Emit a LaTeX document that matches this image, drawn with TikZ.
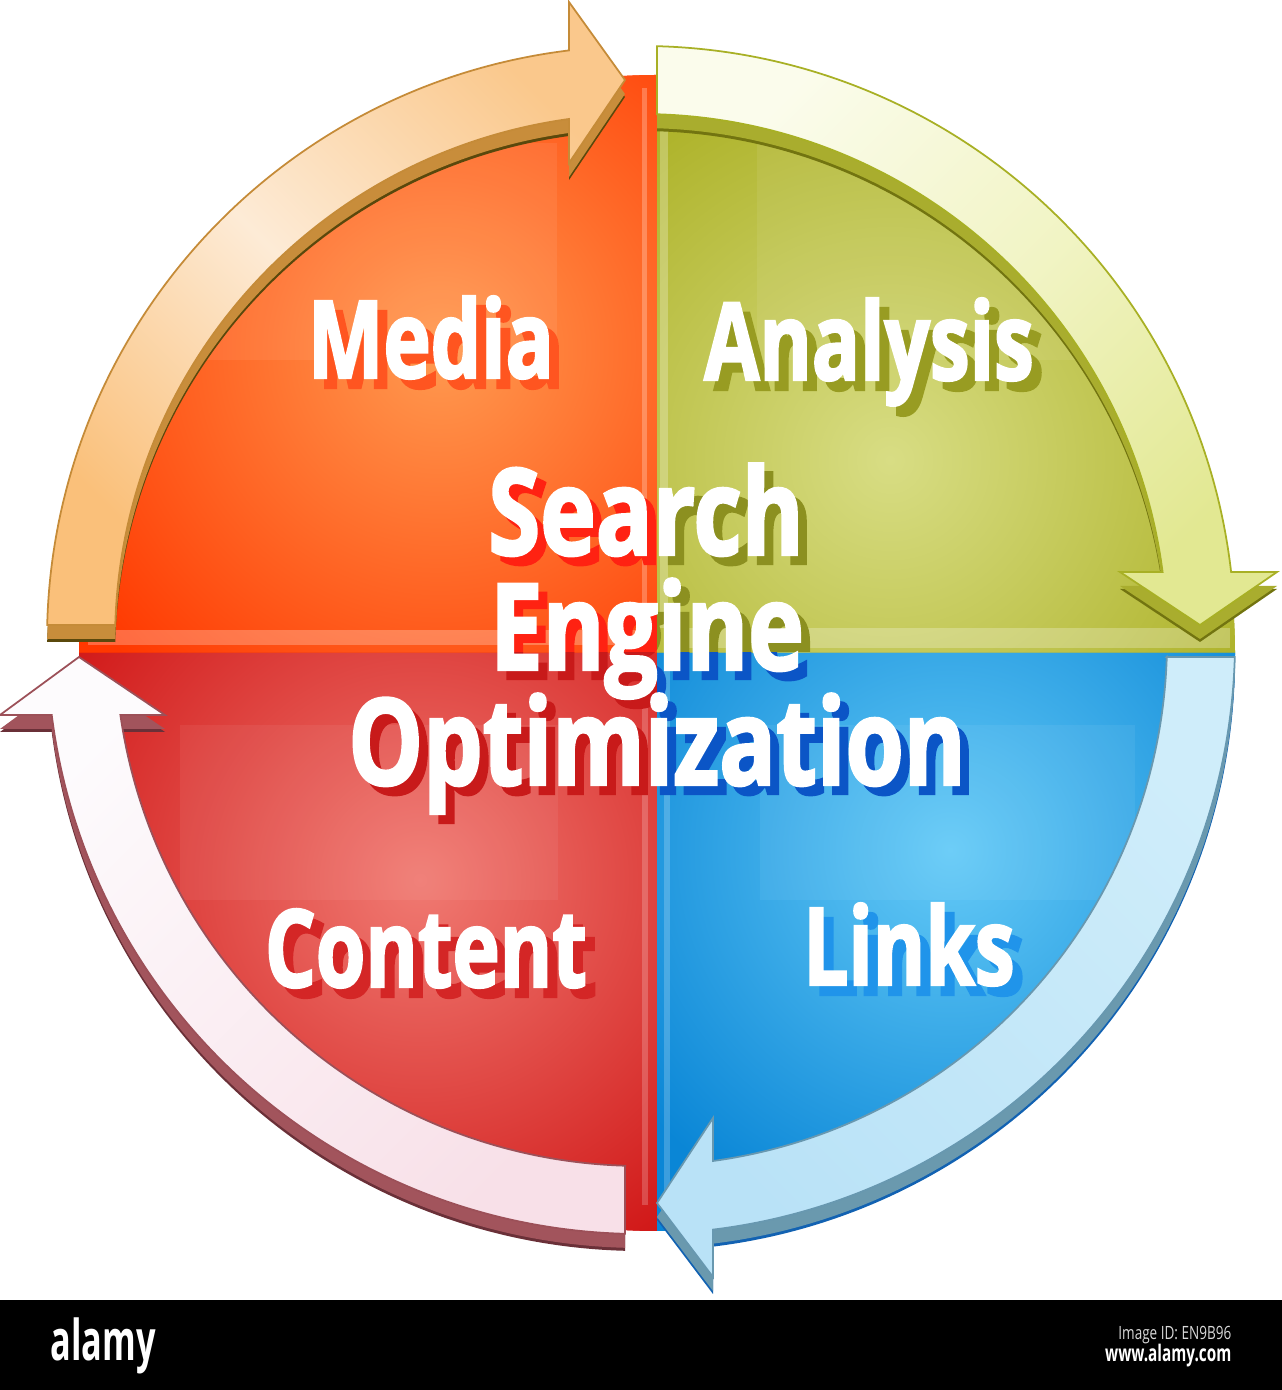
\documentclass[tikz,border=0pt]{standalone}
\usepackage{fontspec}
\usepackage{graphicx}
\setmainfont{Open Sans}
\newfontfamily\titlefont[FakeStretch=0.78, FakeBold=2]{Open Sans}
\newfontfamily\labelfont[FakeStretch=0.74, FakeBold=2]{Open Sans}
\usetikzlibrary{positioning}

% quadrant colours
\definecolor{mediaBase}{HTML}{FF3800}
\definecolor{mediaLight}{HTML}{FF9A50}
\definecolor{mediaTxtSh}{HTML}{FF5520}
\definecolor{mediaTitleSh}{HTML}{FF2212}
\definecolor{analysisBase}{HTML}{AEB32A}
\definecolor{analysisLight}{HTML}{D8DD84}
\definecolor{analysisTxtSh}{HTML}{989C22}
\definecolor{analysisTitleSh}{HTML}{8C9020}
\definecolor{contentBase}{HTML}{D01616}
\definecolor{contentLight}{HTML}{F07A72}
\definecolor{contentTxtSh}{HTML}{D42626}
\definecolor{contentTitleSh}{HTML}{C81A1A}
\definecolor{linksBase}{HTML}{0A86D6}
\definecolor{linksLight}{HTML}{64CAF7}
\definecolor{linksTxtSh}{HTML}{2094EA}
\definecolor{linksTitleSh}{HTML}{0B55C6}
% arrow colours
\definecolor{mediaArrowA}{HTML}{FAC07A}
\definecolor{mediaArrowB}{HTML}{FDEBD6}
\definecolor{mediaArrowC}{HTML}{FAC88C}
\definecolor{mediaArrowLine}{HTML}{C58B38}
\definecolor{mediaArrowSide}{HTML}{C88D3B}
\definecolor{mediaArrowEdge}{HTML}{5A480C}
\definecolor{analysisArrowA}{HTML}{FBFCEC}
\definecolor{analysisArrowB}{HTML}{F1F4C4}
\definecolor{analysisArrowC}{HTML}{E2E892}
\definecolor{analysisArrowLine}{HTML}{A8B025}
\definecolor{analysisArrowSide}{HTML}{A9AD2E}
\definecolor{analysisArrowEdge}{HTML}{727410}
\definecolor{linksArrowA}{HTML}{CFEDFA}
\definecolor{linksArrowC}{HTML}{B9E2F7}
\definecolor{linksArrowLine}{HTML}{6898B0}
\definecolor{linksArrowSide}{HTML}{6A99AE}
\definecolor{linksArrowEdge}{HTML}{1262B2}
\definecolor{contentArrowA}{HTML}{FDFBFD}
\definecolor{contentArrowC}{HTML}{F8E0E8}
\definecolor{contentArrowLine}{HTML}{9C5058}
\definecolor{contentArrowSide}{HTML}{A2545C}
\definecolor{contentArrowEdge}{HTML}{6A3038}

\tikzset{
  quadtitle/.style={font=\titlefont\bfseries\fontsize{34.3}{40}\selectfont, text=white, inner sep=0pt, anchor=base},
  quadlabel/.style={font=\labelfont\bfseries\fontsize{30.7}{36}\selectfont, text=white, inner sep=0pt, anchor=base},
  arrowline/.style={line width=0.5pt, line join=miter},
  gloss/.style={fill=white, opacity=#1},
}

% ring arrows, relative to the ring centre
\newcommand\mediaarrow{(-525.8,15) -- (-593.8,15) arc[start angle=178.55, end angle=96.96, radius=594] -- (-72,638) -- (-16,560) -- (-72,477) -- (-72,521) arc[start angle=97.87, end angle=178.37, radius=526] -- cycle}
\newcommand\analysisarrow{(16,525.8) -- (16,593.8) arc[start angle=88.46, end angle=6.57, radius=594] -- (636,68) -- (559,15) -- (479,68) -- (521.6,68) arc[start angle=7.43, end angle=88.26, radius=526] -- cycle}
\newcommand\linksarrow{(525.7,-17) -- (593.8,-17) arc[start angle=-1.64, end angle=-83.04, radius=594] -- (72,-637) -- (16,-563) -- (72,-478) -- (72,-521) arc[start angle=-82.14, end angle=-1.85, radius=526] -- cycle}
\newcommand\contentarrow{(-16,-525.8) -- (-16,-593.8) arc[start angle=268.46, end angle=187.25, radius=594] -- (-641,-75) -- (-562,-17) -- (-476,-75) -- (-520.6,-75) arc[start angle=188.20, end angle=268.26, radius=526] -- cycle}

\begin{document}
\begin{tikzpicture}[x=0.01cm, y=0.01cm]
    \useasboundingbox (0,0) rectangle (1282,1390);
    \fill[white] (0,0) rectangle (1282,1390);

    % Quadrants
    \begin{scope}
        \clip (657,737) -- ++(-578,0) arc[start angle=180, end angle=90, radius=578] -- cycle;
        \fill[mediaBase] (0,700) rectangle (700,1390);
        \shade[inner color=mediaLight, outer color=mediaBase] (440,1040) circle (440);
        \fill[gloss=0.07] (185,1030) rectangle (557,1247);
        \fill[gloss=0.25] (88,745) rectangle (640,760);
        \fill[gloss=0.25] (642,760) rectangle (647,1302);
    \end{scope}
    \begin{scope}
        \clip (657,737) -- ++(0,578) arc[start angle=90, end angle=0, radius=578] -- cycle;
        \fill[analysisBase] (600,700) rectangle (1282,1390);
        \shade[inner color=analysisLight, outer color=analysisBase] (890,930) circle (400);
        \fill[gloss=0.07] (757,1030) rectangle (1128,1247);
        \fill[gloss=0.25] (668,742) rectangle (1230,762);
        \fill[gloss=0.25] (660,762) rectangle (668,1260);
    \end{scope}
    \begin{scope}
        \clip (657,737) -- ++(0,-578) arc[start angle=270, end angle=180, radius=578] -- cycle;
        \fill[contentBase] (0,0) rectangle (700,760);
        \shade[inner color=contentLight, outer color=contentBase] (420,510) circle (430);
        \fill[gloss=0.06] (180,665) rectangle (558,490);
        \fill[gloss=0.2] (642,185) rectangle (648,730);
    \end{scope}
    \begin{scope}
        \clip (657,737) -- ++(578,0) arc[start angle=0, end angle=-90, radius=578] -- cycle;
        \fill[linksBase] (600,0) rectangle (1282,760);
        \shade[inner color=linksLight, outer color=linksBase] (950,540) circle (400);
        \fill[gloss=0.06] (760,665) rectangle (1135,490);
        \fill[gloss=0.2] (664,185) rectangle (670,730);
    \end{scope}

    % Ring arrows
    \begin{scope}[shift={(641,750)}]
        \fill[mediaArrowEdge, shift={(0,-17)}] \mediaarrow;
        \fill[mediaArrowSide, shift={(0,-14)}] \mediaarrow;
        \fill[analysisArrowEdge, shift={(0,-17)}] \analysisarrow;
        \fill[analysisArrowSide, shift={(0,-14)}] \analysisarrow;
        \fill[linksArrowEdge, shift={(0,-17)}] \linksarrow;
        \fill[linksArrowSide, shift={(0,-14)}] \linksarrow;
        \fill[contentArrowEdge, shift={(0,-17)}] \contentarrow;
        \fill[contentArrowSide, shift={(0,-14)}] \contentarrow;

        \shade[arrowline, draw=mediaArrowLine, top color=mediaArrowC, bottom color=mediaArrowA, middle color=mediaArrowB, shading angle=-45] \mediaarrow;
        \shade[arrowline, draw=analysisArrowLine, top color=analysisArrowA, bottom color=analysisArrowC, middle color=analysisArrowB, shading angle=45] \analysisarrow;
        \shade[arrowline, draw=linksArrowLine, top color=linksArrowA, bottom color=linksArrowC, shading angle=-45] \linksarrow;
        \shade[arrowline, draw=contentArrowLine, top color=contentArrowA, bottom color=contentArrowC, shading angle=45] \contentarrow;
    \end{scope}

    % Title, shadow split by quadrant
    \foreach \cx/\cy/\shcol [count=\i] in {0/1390/mediaTitleSh, 1282/1390/analysisTitleSh, 0/0/contentTitleSh, 1282/0/linksTitleSh}{
        \begin{scope}
            \clip (657,737) rectangle (\cx,\cy);
            \node[quadtitle, text=\shcol] (search-sh\i) at (655,826) {Search};
            \node[quadtitle, text=\shcol] (engine-sh\i) at (656,711) {Engine};
            \node[quadtitle, text=\shcol] (optim-sh\i) at (666,596) {Optimization};
        \end{scope}
    }
    \node[quadtitle] (search) at (646,835) {Search};
    \node[quadtitle] (engine) at (647,720) {Engine};
    \node[quadtitle] (optim) at (657,605) {Optimization};

    % Quadrant labels
    \node[quadlabel, text=mediaTxtSh] (media-sh) at (441,1002) {Media};
    \node[quadlabel] (media) at (431,1012) {Media};
    \node[quadlabel, text=analysisTxtSh] (analysis-sh) at (879,1000) {Analysis};
    \node[quadlabel] (analysis) at (869,1010) {Analysis};
    \node[quadlabel, text=contentTxtSh] (content-sh) at (436,393) {Content};
    \node[quadlabel] (content) at (426,403) {Content};
    \node[quadlabel, text=linksTxtSh] (links-sh) at (919,395) {Links};
    \node[quadlabel] (links) at (909,405) {Links};

    % Stock bar
    \fill[black] (0,0) rectangle (1282,90);
    \node[anchor=base west, inner sep=0pt, text=white, font=\bfseries\fontsize{16}{18}\selectfont] (logo) at (50,30) {\scalebox{0.61}[1]{alamy}};
    \node[anchor=base east, inner sep=0pt, text=black!15, font=\fontsize{5.2}{6}\selectfont] (imageid) at (1232,51) {\scalebox{0.74}[1]{Image ID: EN9B96}};
    \node[anchor=base east, inner sep=0pt, text=white, font=\bfseries\fontsize{6.5}{8}\selectfont] (site) at (1232,28) {\scalebox{0.67}[1]{www.alamy.com}};
\end{tikzpicture}
\end{document}
